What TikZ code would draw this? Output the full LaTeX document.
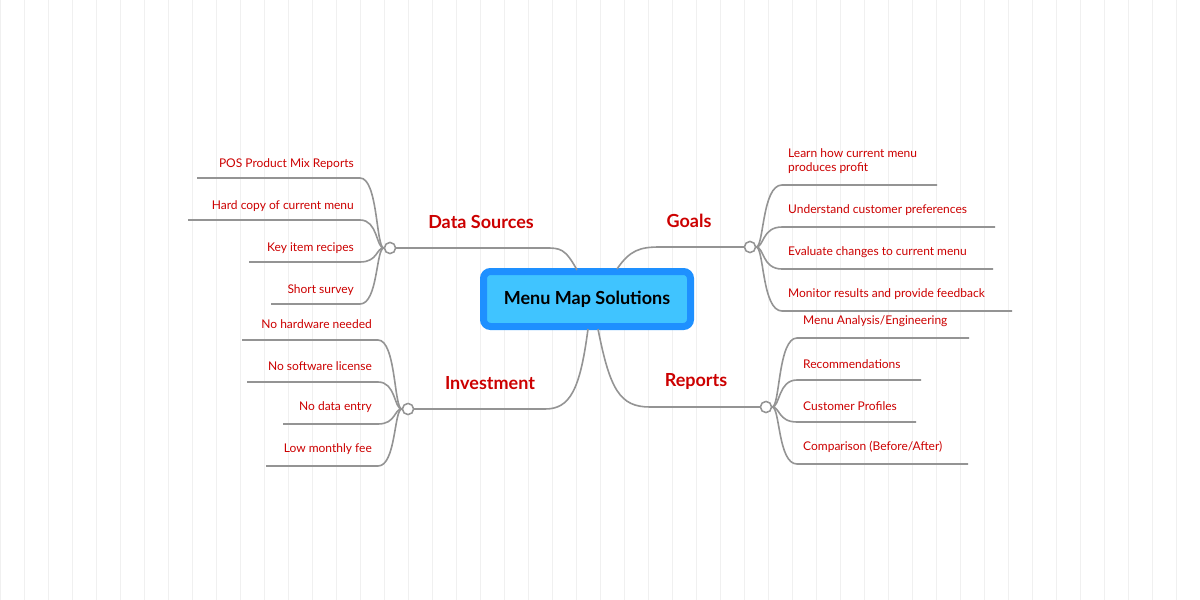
\documentclass[tikz,border=0pt]{standalone}
\usepackage{fontspec}
\setmainfont{Lato}
\begin{document}
\begin{tikzpicture}[x=1pt,y=-1pt,
  conn/.style={draw=black!42,line width=1.6pt},
  leaf/.style={text=red!80!black,font=\fontsize{12}{14}\selectfont,inner sep=0pt,align=left},
  main/.style={text=red!80!black,font=\bfseries\fontsize{18}{20}\selectfont,inner sep=0pt},
  hub/.style={circle,draw=black!42,fill=white,line width=1.4pt,minimum size=11pt,inner sep=0pt}]
\useasboundingbox (0,0) rectangle (1200,600);
\fill[white] (0,0) rectangle (1200,600);
\draw[black!6,line width=0.8pt] (0,0) grid[step=24] (1200,600);
% center
\node[draw={rgb,255:red,30;green,144;blue,255},line width=7pt,fill={rgb,255:red,64;green,196;blue,255},rounded corners=7pt,minimum width=207pt,minimum height=55pt,font=\bfseries\fontsize{18}{20}\selectfont] (c) at (587,299) {Menu Map Solutions};
% hubs
\node[hub] (hd) at (390,248) {};
\node[hub] (hg) at (750,247) {};
\node[hub] (hr) at (766,407) {};
\node[hub] (hi) at (408,409) {};
\node[main] (ld) at (481,222) {Data Sources};
\node[main] (lg) at (689,221) {Goals};
\node[main] (lr) at (696,381) {Reports};
\node[main] (li) at (490,383) {Investment};
% main connectors
\coordinate (cd) at (577,270); \coordinate (cg) at (617,269);
\coordinate (cr) at (598,329); \coordinate (ci) at (588,329);
\draw[conn] (cd) .. controls (565,248) and (560,248) .. (545,248) -- (hd);
\draw[conn] (cg) .. controls (630,250) and (640,247) .. (660,247) -- (hg);
\draw[conn] (cr) .. controls (610,390) and (620,407) .. (650,407) -- (hr);
\draw[conn] (ci) .. controls (580,390) and (570,409) .. (545,409) -- (hi);
% Data sources leaves
\foreach \n/\t/\y/\l in {d1/POS Product Mix Reports/178/197,d2/Hard copy of current menu/220/188,d3/Key item recipes/262/249,d4/Short survey/304/271}{
  \node[leaf,anchor=south east] (\n) at (354,\y-8) {\t};
  \coordinate (\n a) at (\l,\y); \coordinate (\n b) at (360,\y);
  \draw[conn] (\n a) -- (\n b) .. controls (378,\y) and (376,248) .. (hd);
}
% Investment leaves
\foreach \n/\t/\y/\l in {i1/No hardware needed/340/242,i2/No software license/382/247,i3/No data entry/424/283,i4/Low monthly fee/466/266}{
  \node[leaf,anchor=south east] (\n) at (372,\y-11) {\t};
  \coordinate (\n a) at (\l,\y); \coordinate (\n b) at (378,\y);
  \draw[conn] (\n a) -- (\n b) .. controls (396,\y) and (394,409) .. (hi);
}
% Goals leaves
\foreach \n/\t/\y/\r in {g2/Understand customer preferences/227/995,g3/Evaluate changes to current menu/269/993,g4/Monitor results and provide feedback/311/1012}{
  \node[leaf,anchor=south west] (\n) at (788,\y-11) {\t};
  \coordinate (\n a) at (\r,\y); \coordinate (\n b) at (782,\y);
  \draw[conn] (\n a) -- (\n b) .. controls (762,\y) and (764,247) .. (hg);
}
\node[leaf,anchor=south west] (g1) at (788,174) {Learn how current menu\\produces profit};
\coordinate (g1a) at (937,185); \coordinate (g1b) at (782,185);
\draw[conn] (g1a) -- (g1b) .. controls (762,185) and (764,247) .. (hg);
% Reports leaves
\foreach \n/\t/\y/\r in {r1/{Menu Analysis/Engineering}/338/969,r2/Recommendations/380/921,r3/Customer Profiles/422/916,r4/{Comparison (Before/After)}/464/968}{
  \node[leaf,anchor=south west] (\n) at (803,\y-11) {\t};
  \coordinate (\n a) at (\r,\y); \coordinate (\n b) at (797,\y);
  \draw[conn] (\n a) -- (\n b) .. controls (778,\y) and (780,407) .. (hr);
}
\node[hub] at (hd) {};\node[hub] at (hg) {};\node[hub] at (hr) {};\node[hub] at (hi) {};
\end{tikzpicture}
\end{document}
